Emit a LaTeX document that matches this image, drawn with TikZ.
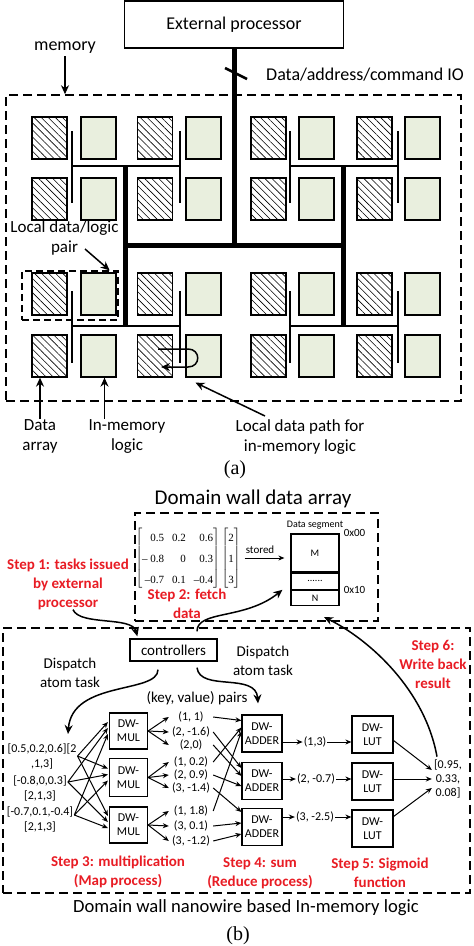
\documentclass[tikz,border=0pt]{standalone}
\usepackage{fontspec}
\setmainfont{Carlito}
\newfontfamily\timesfont{Liberation Serif}
\usetikzlibrary{positioning, arrows.meta, patterns.meta, calc}

\definecolor{logicgreen}{RGB}{233,239,222}
\definecolor{stepred}{RGB}{232,28,36}

\begin{document}
\begin{tikzpicture}[
    x=1pt, y=-1pt,
    databox/.style={rectangle, draw=black, line width=1.3pt, minimum width=35pt, minimum height=42pt, inner sep=0pt, pattern={Lines[angle=-45, distance=5pt, line width=0.6pt]}},
    logicbox/.style={rectangle, draw=black, line width=1.3pt, minimum width=35pt, minimum height=42pt, inner sep=0pt, fill=logicgreen},
    dashbox/.style={rectangle, draw=black, line width=1.5pt, dash pattern=on 9pt off 5pt, inner sep=0pt},
    bus/.style={line width=5pt},
    wire/.style={line width=2pt},
    arrow/.style={-{Stealth[length=9pt, width=8pt]}, line width=1.5pt},
    thinarrow/.style={-{Stealth[length=6pt, width=5pt]}, line width=1pt},
    lbl/.style={align=center, inner sep=0pt, font=\fontsize{17}{20}\selectfont},
    disp/.style={align=center, inner sep=0pt, font=\fontsize{15}{19}\selectfont},
    steplbl/.style={align=center, inner sep=0pt, text=stepred, font=\bfseries\fontsize{15}{19}\selectfont},
    dwbox/.style={rectangle, draw=black, line width=1.2pt, minimum width=38pt, minimum height=37pt, align=center, inner sep=0pt, font=\fontsize{12}{14}\selectfont},
    segbox/.style={rectangle, draw=black, line width=1.2pt, minimum width=48pt, inner sep=0pt, font=\fontsize{10}{11}\selectfont},
    kv/.style={minimum width=44pt, inner sep=0pt, font=\fontsize{12}{13}\selectfont},
    inlbl/.style={align=center, inner sep=0pt, font=\fontsize{12}{15}\selectfont}
]
\useasboundingbox (0,0) rectangle (474,946);

% ---------------- (a) ----------------
% External processor and memory region
\node[rectangle, draw, line width=1.5pt, minimum width=219pt, minimum height=47pt, font=\fontsize{18}{20}\selectfont] (proc) at (234,24.5) {External processor};
\node[dashbox, minimum width=455pt, minimum height=306pt] (mem) at (233.5,248) {};
\node[lbl, font=\fontsize{18}{20}\selectfont] (memlbl) at (65,48) {memory};
\draw[arrow] ([yshift=-2pt]memlbl.south) -- (memlbl.south |- mem.north);

% Data/address/command bus
\draw[bus] (proc.south) -- (234,245);
\draw[bus] (125,166) -- (125,326);
\draw[bus] (343,166) -- (343,326);
\draw[bus] (125,245) -- (343,245);
\draw[line width=2.5pt] (225,68) -- (247,79);
\node[lbl, font=\fontsize{18}{20}\selectfont] (iolbl) at (365,75) {Data/address/command IO};

% Local buses
\foreach \gx in {0,218} {
  \foreach \gy in {0,160} {
    \draw[wire] (72+\gx,166+\gy) -- (180+\gx,166+\gy);
    \draw[wire] (72+\gx,131+\gy) -- (72+\gx,203+\gy);
    \draw[wire] (180+\gx,131+\gy) -- (180+\gx,203+\gy);
  }
}

% Data arrays and in-memory logic
\foreach \r/\ry in {1/138,2/199,3/294,4/356} {
  \foreach \c/\dx/\lx in {1/49.5/98.5, 2/155/203.5, 3/268.5/316.5, 4/374.5/422.5} {
    \node[databox] (d\r\c) at (\dx,\ry) {};
    \node[logicbox] (l\r\c) at (\lx,\ry) {};
  }
}

% Local data/logic pair
\node[dashbox, line width=1.3pt, dash pattern=on 7pt off 4pt, minimum width=96pt, minimum height=49pt] (pair) at (70,295.5) {};
\node[lbl] (pairlbl) at (64.5,238) {Local data/logic\\pair};
\coordinate (pairtail) at (85,249);
\draw[arrow] (pairtail) -- ([xshift=-9pt]pair.north east);

% Local data path
\draw[arrow] (158,349) -- (188,349) .. controls (201,349) and (201,367) .. (188,367) -- (161,367);

% Labels below the memory
\node[lbl] (dalbl) at (40,436) {Data\\array};
\draw[arrow] (dalbl.north) -- (dalbl.north |- d41.south);
\node[lbl] (imlbl) at (127,436) {In-memory\\logic};
\draw[arrow] ($(l41.south |- imlbl.north)+(6,0)$) -- ($(l41.south)+(6,0)$);
\node[lbl] (ldplbl) at (300,437) {Local data path for\\in-memory logic};
\coordinate (ldptail) at (265,416);
\draw[arrow] (ldptail) -- ($(l42.south)+(-8,5)$);

\node[font=\timesfont\fontsize{20}{22}\selectfont, inner sep=0pt] (capa) at (235,470) {(a)};

% ---------------- (b) ----------------
% Domain wall data array
\node[font=\fontsize{21}{24}\selectfont, inner sep=0pt] (dwtitle) at (253,499) {Domain wall data array};
\node[dashbox, minimum width=243pt, minimum height=108pt] (arraybox) at (256.5,567) {};
\node[font=\timesfont\fontsize{11}{15}\selectfont, inner sep=0pt] (mat) at (188,558)
  {\setlength{\tabcolsep}{4pt}\renewcommand{\arraystretch}{1.4}$\left[\begin{tabular}{@{}rrr@{}}0.5&0.2&0.6\\– 0.8&0&0.3\\–0.7&0.1&–0.4\end{tabular}\right]\left[\begin{tabular}{@{}c@{}}2\\1\\3\end{tabular}\right]$};

\node[segbox, minimum height=38pt] (segM) at (315,553) {M};
\node[segbox, minimum height=16pt, below=0pt of segM] (segD) {......};
\node[segbox, minimum height=15pt, below=0pt of segD] (segN) {N};
\node[font=\fontsize{10}{11}\selectfont, inner sep=1pt, above=3pt of segM] (seglbl) {Data segment};
\node[font=\fontsize{11}{12}\selectfont, inner sep=1pt, right=3pt of segM.north east] (addr0) {0x00};
\node[font=\fontsize{11}{12}\selectfont, inner sep=1pt, right=3pt of segD.south east] (addr1) {0x10};

\node[font=\fontsize{11}{12}\selectfont, inner sep=1pt] (storedlbl) at (260,550) {stored};
\draw[thinarrow] ($(mat.east)+(4,0)$) -- ($(mat.east -| segM.west)+(-6,0)$);

% Controllers and steps 1, 2
\node[rectangle, draw, line width=1.3pt, minimum width=87pt, minimum height=22pt, inner sep=0pt, font=\fontsize{15}{17}\selectfont] (ctrl) at (173.5,650) {controllers};
\node[steplbl] (step1) at (68,584) {Step 1: tasks issued\\by external\\processor};
\node[steplbl] (step2) at (187,604) {Step 2: fetch\\data};
\draw[arrow] ($(step1.south)+(5,0)$) .. controls (80,626) and (132,616) .. ($(ctrl.north west)+(8,-2)$);
\draw[arrow] ($(ctrl.north)+(23.5,-7)$) .. controls (197,610) and (245,620) .. ($(segN.north west)+(-8,0)$);

% In-memory logic region
\node[dashbox, minimum width=467pt, minimum height=265pt] (imbox) at (236.5,760.5) {};
\node[disp] (displ) at (70,673) {Dispatch\\atom task};
\node[disp] (dispr) at (263,661) {Dispatch\\atom task};
\node[disp] (kvlbl) at (197,698) {(key, value) pairs};

% Inputs
\node[inlbl] (in1) at (42,756) {[0.5,0.2,0.6][2\\,1,3]};
\node[inlbl] (in2) at (40,788) {[-0.8,0,0.3]\\{}[2,1,3]};
\node[inlbl] (in3) at (40,819) {[-0.7,0.1,-0.4]\\{}[2,1,3]};
\coordinate (displend) at (68,734);
\draw[arrow] ($(ctrl.south)+(-15.5,8)$) .. controls (158,694) and (72,680) .. (displend);

% Map
\node[dwbox, minimum height=36pt] (mul1) at (128.5,731) {DW-\\MUL};
\node[dwbox, minimum height=38pt] (mul2) at (128.5,777.5) {DW-\\MUL};
\node[dwbox, minimum height=36pt] (mul3) at (128.5,825) {DW-\\MUL};
\foreach \s/\sy/\ty in {in1/0/-9, in2/-6/-3, in3/-4/3} {
  \foreach \t in {mul1,mul2,mul3}
    \draw[thinarrow] ($(\s.east)+(1,\sy)$) -- ($(\t.west)+(-1,\ty)$);
}

% (key, value) pairs
\node[kv] (p11) at (191,717) {(1, 1)};
\node[kv] (p12) at (191,732) {(2, -1.6)};
\node[kv] (p13) at (191,745) {(2,0)};
\node[kv] (p21) at (191,762) {(1, 0.2)};
\node[kv] (p22) at (191,775) {(2, 0.9)};
\node[kv] (p23) at (191,788) {(3, -1.4)};
\node[kv] (p31) at (191,811) {(1, 1.8)};
\node[kv] (p32) at (191,826) {(3, 0.1)};
\node[kv] (p33) at (191,841) {(3, -1.2)};
\foreach \m/\i in {mul1/1, mul2/2, mul3/3} {
  \foreach \j in {1,2,3}
    \draw[thinarrow] (\m.east) -- (p\i\j.west);
}

% Reduce
\node[dwbox, minimum width=40pt] (add1) at (262,733.5) {DW-\\ADDER};
\node[dwbox, minimum width=40pt] (add2) at (262,781) {DW-\\ADDER};
\node[dwbox, minimum width=40pt] (add3) at (262,827) {DW-\\ADDER};
\draw[arrow] ($(ctrl.south)+(23.5,6)$) .. controls (200,692) and (256,672) .. ($(add1.north)+(-4,-11)$);
\draw[thinarrow] (p11.east) -- ($(add1.west)+(0,-13)$);
\draw[thinarrow] (p21.east) -- ($(add1.west)+(0,-6)$);
\draw[thinarrow] (p31.east) -- ($(add1.west)+(0,-2)$);
\draw[thinarrow] (p12.east) -- ($(add2.west)+(0,-13)$);
\draw[thinarrow] (p13.east) -- ($(add2.west)+(0,-5)$);
\draw[thinarrow] (p22.east) -- ($(add2.west)+(0,5)$);
\draw[thinarrow] (p23.east) -- ($(add3.west)+(0,-15)$);
\draw[thinarrow] (p32.east) -- ($(add3.west)+(0,-4)$);
\draw[thinarrow] (p33.east) -- ($(add3.west)+(0,7)$);

% Sigmoid
\node[dwbox, minimum width=41pt] (lut1) at (372.5,734.5) {DW-\\LUT};
\node[dwbox, minimum width=41pt] (lut2) at (372.5,781.5) {DW-\\LUT};
\node[dwbox, minimum width=41pt] (lut3) at (372.5,828.5) {DW-\\LUT};
\node[kv, minimum width=0pt, inner sep=1pt] (r1) at (315,742) {(1,3)};
\node[kv, minimum width=0pt, inner sep=1pt] (r2) at (316,779) {(2, -0.7)};
\node[kv, minimum width=0pt, inner sep=1pt] (r3) at (315,817) {(3, -2.5)};
\foreach \i in {1,2,3} {
  \draw[thinarrow] (add\i.east |- r\i) -- (r\i.west);
  \draw[thinarrow] (r\i.east) -- (lut\i.west |- r\i);
}

% Result and write back
\node[inlbl, font=\fontsize{12}{14}\selectfont] (res) at (448,779) {[0.95,\\0.33,\\0.08]};
\draw[thinarrow] ($(lut1.east)+(0,6)$) -- ($(res.west)+(-2,-9)$);
\draw[thinarrow] (lut2.east |- res.west) -- ($(res.west)+(-2,0)$);
\draw[thinarrow] ($(lut3.east)+(0,-12)$) -- ($(res.west)+(-2,9)$);
\draw[arrow] ($(res.north)+(-11,-3)$) .. controls (425,690) and (370,640) .. ($(segN.south)+(9,11)$);

% Step labels
\node[steplbl] (step3) at (118,872) {Step 3: multiplication\\(Map process)};
\node[steplbl] (step4) at (260,873) {Step 4: sum\\(Reduce process)};
\node[steplbl] (step5) at (380,873) {Step 5: Sigmoid\\function};
\node[steplbl] (step6) at (433,664) {Step 6:\\Write back\\result};

\node[font=\fontsize{18.6}{22}\selectfont, inner sep=0pt] (imtitle) at (246,908) {Domain wall nanowire based In-memory logic};
\node[font=\timesfont\fontsize{20}{22}\selectfont, inner sep=0pt] (capb) at (238,936) {(b)};

\end{tikzpicture}
\end{document}
